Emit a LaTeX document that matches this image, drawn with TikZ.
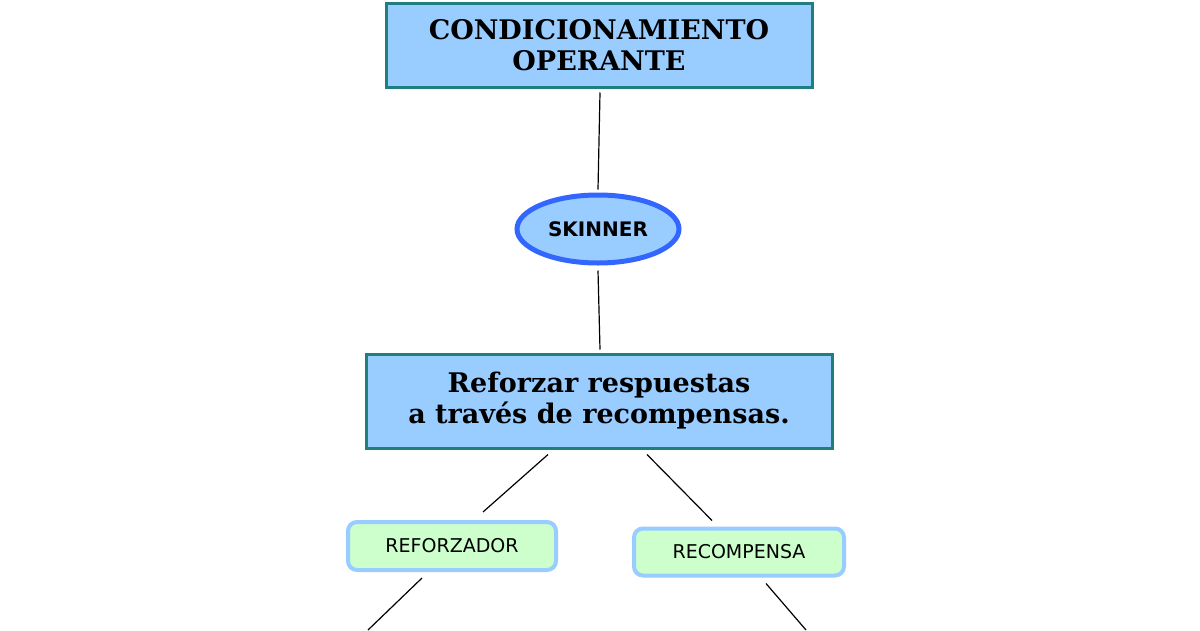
\documentclass[tikz,border=0pt]{standalone}
\usepackage{fontspec}
\setmainfont{DejaVu Serif}
\setsansfont{DejaVu Sans}
\usetikzlibrary{shapes.geometric,calc}
\definecolor{boxfill}{HTML}{99CCFF}
\definecolor{teal2}{HTML}{1F7F7F}
\definecolor{blueb}{HTML}{3366FF}
\definecolor{greenf}{HTML}{CCFFCC}
\begin{document}
\begin{tikzpicture}[x=1pt,y=-1pt,
  mainbox/.style={draw=teal2,line width=3pt,fill=boxfill,inner sep=0,align=center,font=\fontsize{27}{31}\selectfont\bfseries},
  leaf/.style={draw=boxfill,line width=4pt,fill=greenf,rounded corners=9pt,inner sep=0,font=\sffamily\fontsize{19}{22}\selectfont},
  conn/.style={line width=1.2pt}]
\useasboundingbox (0,0) rectangle (1200,630);
\fill[white] (0,0) rectangle (1200,630);
\node[mainbox,minimum width=426,minimum height=84] (top) at (599,45) {CONDICIONAMIENTO\\OPERANTE};
\node[ellipse,draw=blueb,line width=5pt,fill=boxfill,minimum width=162,minimum height=68,inner sep=0,font=\sffamily\bfseries\fontsize{20}{24}\selectfont] (sk) at (598,229) {SKINNER};
\node[mainbox,minimum width=466,minimum height=94] (resp) at (599,401) {Reforzar respuestas\\a través de recompensas.};
\node[leaf,minimum width=208,minimum height=48] (ref) at (452,546) {REFORZADOR};
\node[leaf,minimum width=210,minimum height=47] (rec) at (739,552) {RECOMPENSA};
\coordinate (e1) at (368,630);
\coordinate (e2) at (806,630);
\draw[conn] ($(top.south)+(1,4)$) -- ($(sk.north)+(0,-3)$);
\draw[conn] ($(sk.south)+(0,5)$) -- ($(resp.north)+(1,-3)$);
\draw[conn] ($(resp.south)+(-51,5)$) -- ($(ref.north)+(31,-8)$);
\draw[conn] ($(resp.south)+(48,5)$) -- ($(rec.north)+(-27,-6)$);
\draw[conn] ($(ref.south)+(-30,6)$) -- (e1);
\draw[conn] ($(rec.south)+(27,6)$) -- (e2);
\end{tikzpicture}
\end{document}
